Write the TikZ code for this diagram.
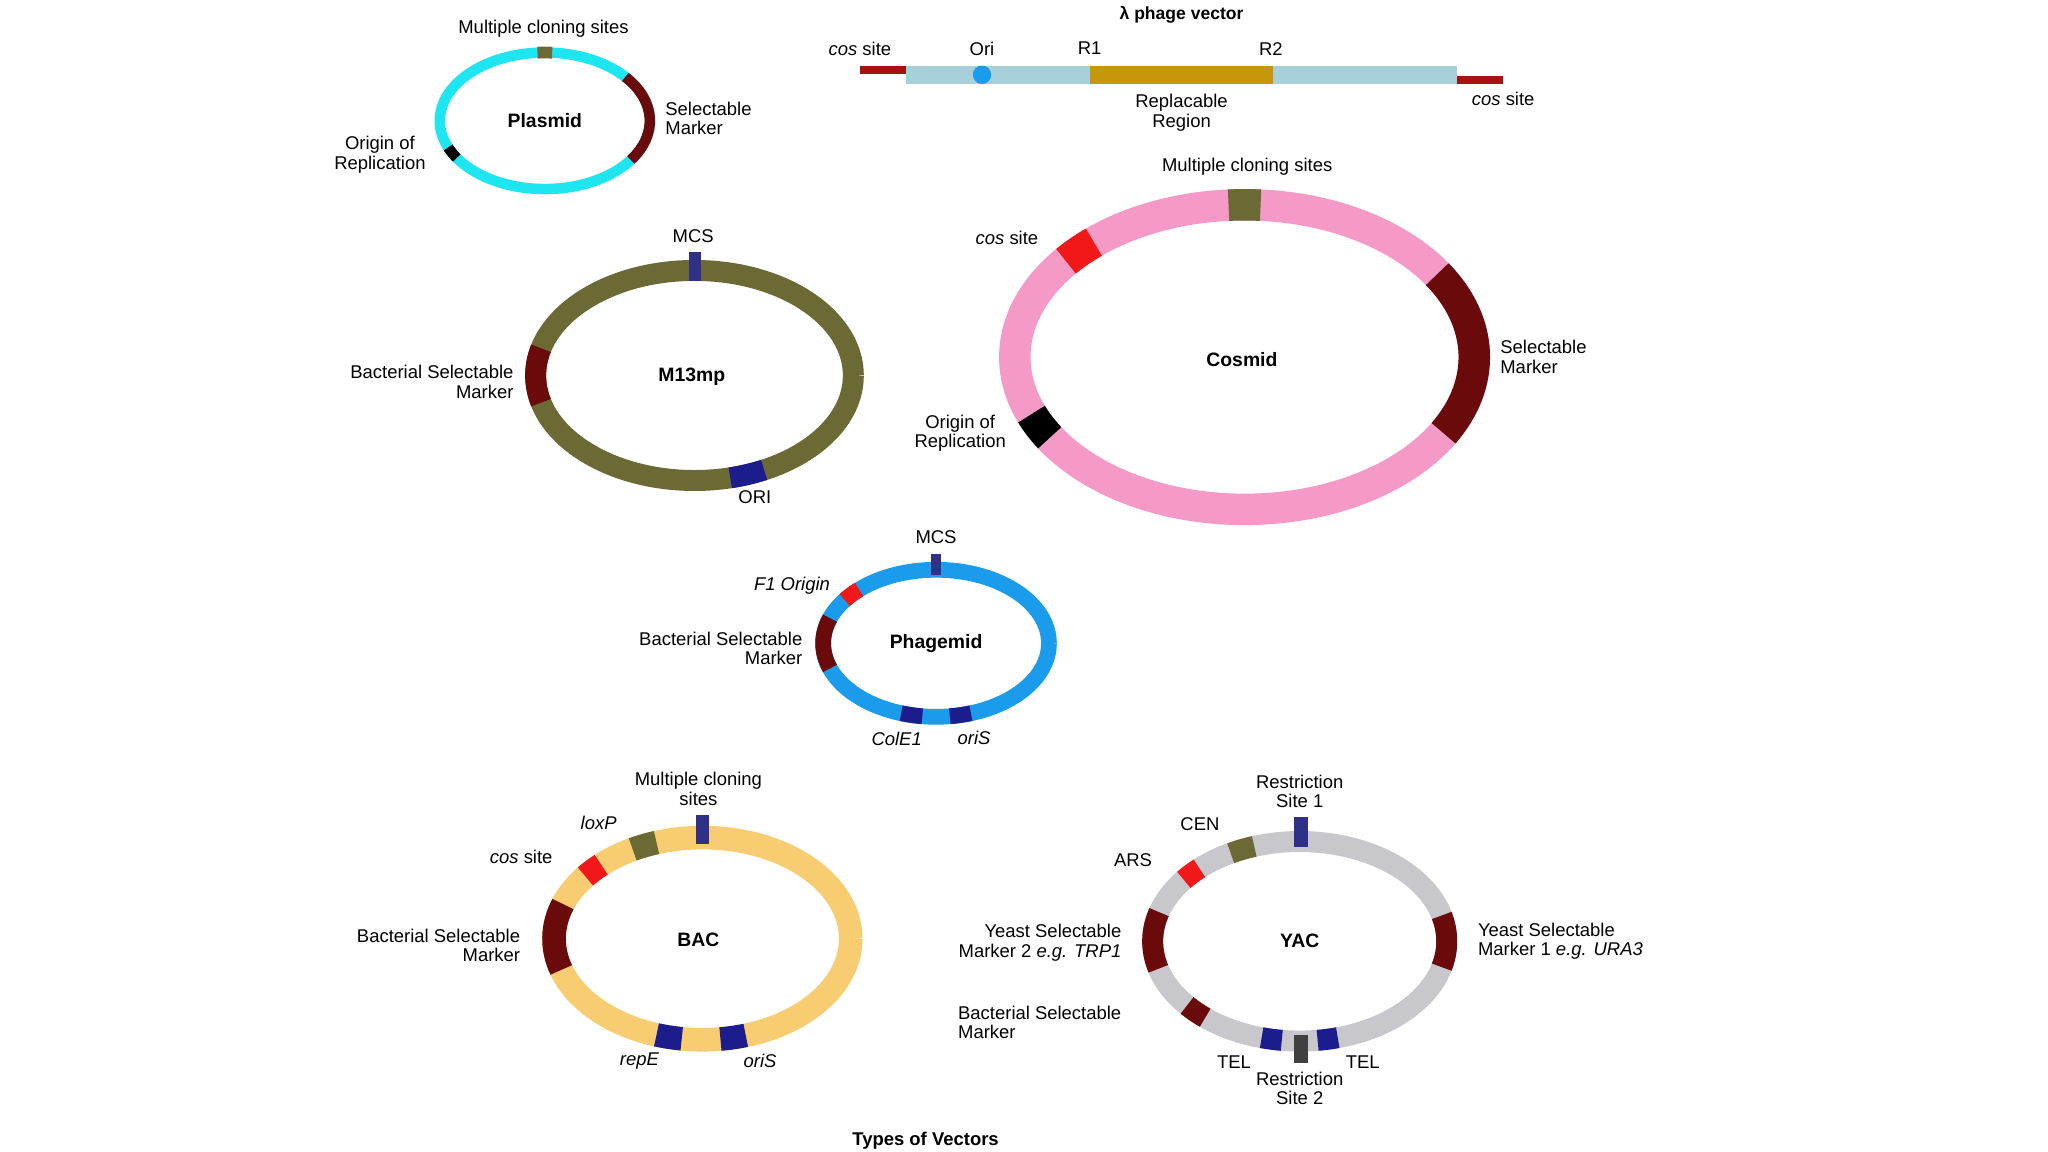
\documentclass[tikz,border=0pt]{standalone}
\usepackage{fontspec}
\setmainfont{Liberation Sans}
\definecolor{cy}{HTML}{1DE6F0}
\definecolor{ol}{HTML}{6B6A35}
\definecolor{dr}{HTML}{6A0A0A}
\definecolor{nv}{HTML}{1C1C8C}
\definecolor{rd}{HTML}{F01818}
\definecolor{pk}{HTML}{F59AC6}
\definecolor{bl}{HTML}{1A9BEB}
\definecolor{or}{HTML}{F8CC70}
\definecolor{gr}{HTML}{C8C8CC}
\definecolor{lb}{HTML}{A8D0DA}
\definecolor{gd}{HTML}{C8960A}
\newcommand\seg[8]{\draw[#7,line width=#8*1.42pt] ([shift={(#5:#3 and #4)}]#1,-#2) arc[start angle=#5,end angle=#6,x radius=#3,y radius=#4];}
\tikzset{lab/.style={font=\fontsize{20}{21}\selectfont,align=center,inner sep=1pt},
 ttl/.style={font=\fontsize{21}{22}\selectfont\bfseries}}
\begin{document}
\begin{tikzpicture}[x=0.05cm,y=0.05cm]
\useasboundingbox[fill=white] (0,0) rectangle (1560,-877);
% Plasmid
\seg{415}{92}{80}{52}{0}{360}{cy}{8}
\seg{415}{92}{80}{52}{86}{94}{ol}{9}
\seg{415}{92}{80}{52}{40}{-35}{dr}{8}
\seg{415}{92}{80}{52}{203}{213}{black}{8}
\node[ttl] (plasmid) at (415,-92) {Plasmid};
\node[lab] (p1) at (414,-22) {Multiple cloning sites};
\node[lab,align=left,anchor=west] (p2) at (506,-90) {Selectable\\Marker};
\node[lab,anchor=east] (p3) at (325,-118) {Origin of\\Replication};
% lambda
\node[ttl,font=\fontsize{19}{20}\selectfont\bfseries] (lam) at (900,-11) {λ phage vector};
\fill[rd!70!black] (655,-50) rectangle (690,-56);
\fill[lb] (690,-50) rectangle (1110,-64);
\fill[gd] (830,-50) rectangle (970,-64);
\fill[rd!70!black] (1110,-58) rectangle (1145,-64);
\fill[bl] (748,-57) circle (7);
\node[lab] (cs1) at (655,-37) {\itshape cos\upshape\ site};
\node[lab] (ori) at (748,-37) {Ori};
\node[lab] (r1) at (830,-37) {R1};
\node[lab] (r2) at (968,-37) {R2};
\node[lab] (rr) at (900,-86) {Replacable\\Region};
\node[lab] (cs2) at (1145,-75) {\itshape cos\upshape\ site};
% M13mp
\seg{529}{286}{121}{80}{0}{360}{ol}{16}
\seg{529}{286}{121}{80}{165}{195}{dr}{16}
\seg{529}{286}{121}{80}{283}{296}{nv}{16}
\fill[nv!80!gray] (525,-192) rectangle (534,-214);
\node[ttl] (m13) at (527,-287) {M13mp};
\node[lab] (m1) at (528,-180) {MCS};
\node[lab,align=right,anchor=east] (m2) at (392,-291) {Bacterial Selectable\\Marker};
\node[lab] (m3) at (575,-379) {ORI};
% Cosmid
\seg{948}{272}{175}{116}{0}{360}{pk}{24}
\seg{948}{272}{175}{116}{86}{94}{ol}{24}
\seg{948}{272}{175}{116}{131}{141}{rd}{24}
\seg{948}{272}{175}{116}{33}{-30}{dr}{24}
\seg{948}{272}{175}{116}{202}{212}{black}{24}
\node[ttl] (cos) at (946,-274) {Cosmid};
\node[lab] (c1) at (950,-127) {Multiple cloning sites};
\node[lab] (c2) at (767,-181) {\itshape cos\upshape\ site};
\node[lab,align=left,anchor=west] (c3) at (1142,-272) {Selectable\\Marker};
\node[lab,anchor=east] (c4) at (767,-330) {Origin of\\Replication};
% Phagemid
\seg{713}{490}{86}{56}{0}{360}{bl}{12}
\seg{713}{490}{86}{56}{133}{144}{rd}{12}
\seg{713}{490}{86}{56}{160}{200}{dr}{12}
\seg{713}{490}{86}{56}{252}{263}{nv}{12}
\seg{713}{490}{86}{56}{277}{288}{nv}{12}
\fill[nv!80!gray] (709,-422) rectangle (717,-438);
\node[ttl] (phg) at (713,-490) {Phagemid};
\node[lab] (f0) at (713,-409) {MCS};
\node[lab,anchor=east] (f1) at (633,-446) {\itshape F1 Origin};
\node[lab,align=right,anchor=east] (f2) at (612,-494) {Bacterial Selectable\\Marker};
\node[lab] (f3) at (683,-563) {\itshape ColE1};
\node[lab] (f4) at (742,-562) {\itshape oriS};
% BAC
\seg{535}{715}{113}{77}{0}{360}{or}{18}
\seg{535}{715}{113}{77}{108}{118}{ol}{18}
\seg{535}{715}{113}{77}{133}{142}{rd}{18}
\seg{535}{715}{113}{77}{160}{198}{dr}{18}
\seg{535}{715}{113}{77}{252}{262}{nv}{18}
\seg{535}{715}{113}{77}{277}{287}{nv}{18}
\fill[nv!80!gray] (530,-621) rectangle (540,-643);
\node[ttl] (bac) at (532,-716) {BAC};
\node[lab] (b1) at (532,-601) {Multiple cloning\\sites};
\node[lab] (b2) at (456,-627) {\itshape loxP};
\node[lab] (b3) at (397,-653) {\itshape cos\upshape\ site};
\node[lab,align=right,anchor=east] (b4) at (397,-720) {Bacterial Selectable\\Marker};
\node[lab] (b5) at (487,-808) {\itshape repE};
\node[lab] (b6) at (579,-808) {\itshape oriS};
% YAC
\seg{990}{717}{112}{76}{0}{360}{gr}{16}
\seg{990}{717}{112}{76}{108}{118}{ol}{16}
\seg{990}{717}{112}{76}{133}{142}{rd}{16}
\seg{990}{717}{112}{76}{163}{196}{dr}{16}
\seg{990}{717}{112}{76}{220}{230}{dr}{16}
\seg{990}{717}{112}{76}{255}{263}{nv}{16}
\seg{990}{717}{112}{76}{277}{285}{nv}{16}
\seg{990}{717}{112}{76}{-15}{15}{dr}{16}
\fill[nv!80!gray] (986,-622) rectangle (996,-645);
\fill[black!75] (986,-788) rectangle (996,-810);
\node[ttl] (yac) at (990,-717) {YAC};
\node[lab] (y1) at (990,-603) {Restriction\\Site 1};
\node[lab] (y2) at (914,-628) {CEN};
\node[lab] (y3) at (863,-655) {ARS};
\node[lab,align=right,anchor=east] (y4) at (855,-718) {Yeast Selectable\\Marker 2 \itshape e.g. TRP1};
\node[lab,align=left,anchor=west] (y5) at (1125,-717) {Yeast Selectable\\Marker 1 \itshape e.g. URA3};
\node[lab,align=left,anchor=west] (y6) at (729,-779) {Bacterial Selectable\\Marker};
\node[lab] (y7) at (940,-809) {TEL};
\node[lab] (y8) at (1038,-809) {TEL};
\node[lab] (y9) at (990,-829) {Restriction\\Site 2};
\node[ttl,font=\fontsize{20}{21}\selectfont\bfseries] (tv) at (705,-869) {Types of Vectors};
\end{tikzpicture}
\end{document}
